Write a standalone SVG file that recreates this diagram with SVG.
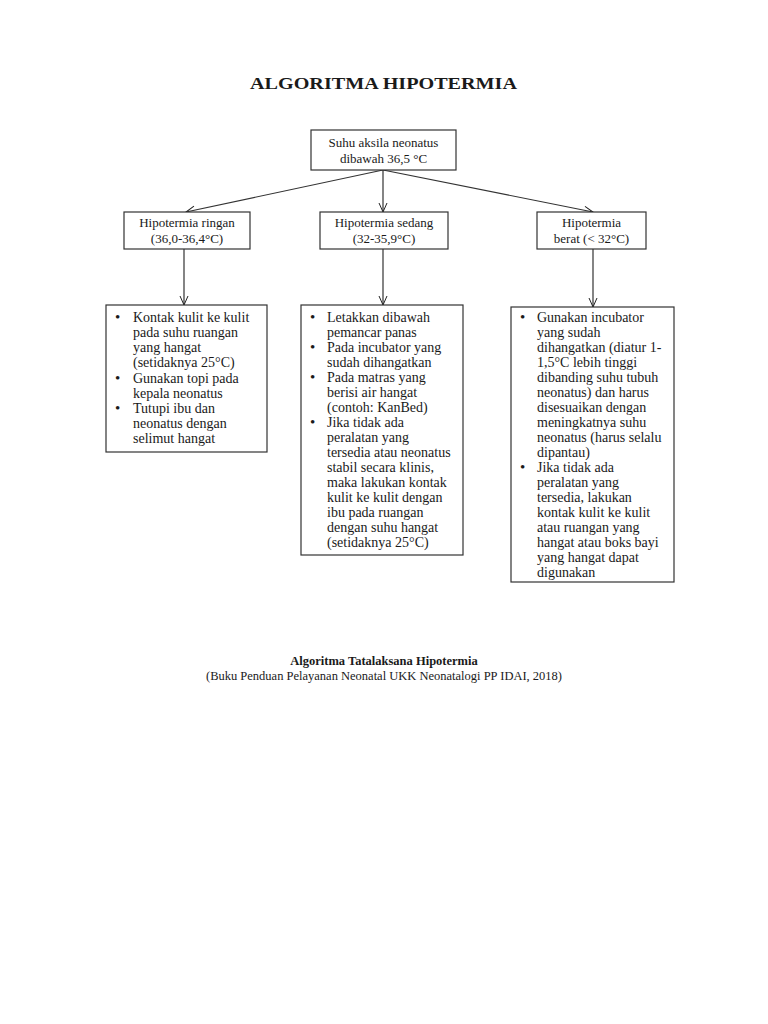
<svg xmlns="http://www.w3.org/2000/svg" width="768" height="1024" viewBox="0 0 768 1024">
<defs>
<marker id="arr" markerWidth="12" markerHeight="10" refX="10" refY="5" orient="auto" markerUnits="userSpaceOnUse">
<polyline points="1,1 10,5 1,9" fill="none" stroke="#222" stroke-width="1"/>
</marker>
<style>
text{font-family:"Liberation Serif","Times New Roman",serif;fill:#1a1a1a;font-size:13px}
.l text{font-size:14px}
.l .d{font-size:15px}
.t{font-size:16.5px;font-weight:bold}
.b{font-weight:bold}
.c{text-anchor:middle}
rect{fill:#fff;stroke:#333;stroke-width:1.2}
.e line{stroke:#333;stroke-width:1.2}
</style>
</defs>
<rect x="0" y="0" width="768" height="1024" style="stroke:none"/>
<text class="t" x="250" y="89" textLength="267" lengthAdjust="spacingAndGlyphs">ALGORITMA HIPOTERMIA</text>
<g class="e" id="connectors">
<line x1="383" y1="170" x2="186" y2="212" marker-end="url(#arr)"/>
<line x1="383" y1="170" x2="383" y2="212" marker-end="url(#arr)"/>
<line x1="383" y1="170" x2="593" y2="212" marker-end="url(#arr)"/>
<line x1="184" y1="249" x2="184" y2="305" marker-end="url(#arr)"/>
<line x1="383" y1="249" x2="383" y2="305" marker-end="url(#arr)"/>
<line x1="593" y1="249" x2="593" y2="307" marker-end="url(#arr)"/>
</g>
<g id="root">
<rect x="311" y="130" width="145" height="40"/>
<text class="c" x="383.5" y="147">Suhu aksila neonatus</text>
<text class="c" x="383.5" y="163">dibawah 36,5 °C</text>
</g>
<g id="ringan">
<rect x="124" y="212" width="126" height="37"/>
<text class="c" x="187" y="227">Hipotermia ringan</text>
<text class="c" x="187" y="243">(36,0-36,4°C)</text>
</g>
<g id="sedang">
<rect x="320" y="212" width="128" height="37"/>
<text class="c" x="384" y="227">Hipotermia sedang</text>
<text class="c" x="384" y="243">(32-35,9°C)</text>
</g>
<g id="berat">
<rect x="537" y="212" width="109" height="37"/>
<text class="c" x="591.5" y="227">Hipotermia</text>
<text class="c" x="591.5" y="243">berat (&lt; 32°C)</text>
</g>
<g id="ringan-list" class="l">
<rect x="106" y="305" width="161" height="147"/>
<text class="d" x="115" y="322">•</text>
<text x="133" y="322">Kontak kulit ke kulit</text>
<text x="133" y="337">pada suhu ruangan</text>
<text x="133" y="352">yang hangat</text>
<text x="133" y="367">(setidaknya 25°C)</text>
<text class="d" x="115" y="383">•</text>
<text x="133" y="383">Gunakan topi pada</text>
<text x="133" y="398">kepala neonatus</text>
<text class="d" x="115" y="413">•</text>
<text x="133" y="413">Tutupi ibu dan</text>
<text x="133" y="428">neonatus dengan</text>
<text x="133" y="443">selimut hangat</text>
</g>
<g id="sedang-list" class="l">
<rect x="301" y="305" width="162" height="250"/>
<text class="d" x="310" y="322">•</text>
<text x="327" y="322">Letakkan dibawah</text>
<text x="327" y="337">pemancar panas</text>
<text class="d" x="310" y="352">•</text>
<text x="327" y="352">Pada incubator yang</text>
<text x="327" y="367">sudah dihangatkan</text>
<text class="d" x="310" y="382">•</text>
<text x="327" y="382">Pada matras yang</text>
<text x="327" y="397">berisi air hangat</text>
<text x="327" y="412">(contoh: KanBed)</text>
<text class="d" x="310" y="427">•</text>
<text x="327" y="427">Jika tidak ada</text>
<text x="327" y="442">peralatan yang</text>
<text x="327" y="457">tersedia atau neonatus</text>
<text x="327" y="472">stabil secara klinis,</text>
<text x="327" y="487">maka lakukan kontak</text>
<text x="327" y="502">kulit ke kulit dengan</text>
<text x="327" y="517">ibu pada ruangan</text>
<text x="327" y="532">dengan suhu hangat</text>
<text x="327" y="547">(setidaknya 25°C)</text>
</g>
<g id="berat-list" class="l">
<rect x="511" y="307" width="163" height="275"/>
<text class="d" x="520" y="322">•</text>
<text x="537" y="322">Gunakan incubator</text>
<text x="537" y="337">yang sudah</text>
<text x="537" y="352">dihangatkan (diatur 1-</text>
<text x="537" y="367">1,5°C lebih tinggi</text>
<text x="537" y="382">dibanding suhu tubuh</text>
<text x="537" y="397">neonatus) dan harus</text>
<text x="537" y="412">disesuaikan dengan</text>
<text x="537" y="427">meningkatnya suhu</text>
<text x="537" y="442">neonatus (harus selalu</text>
<text x="537" y="457">dipantau)</text>
<text class="d" x="520" y="472">•</text>
<text x="537" y="472">Jika tidak ada</text>
<text x="537" y="487">peralatan yang</text>
<text x="537" y="502">tersedia, lakukan</text>
<text x="537" y="517">kontak kulit ke kulit</text>
<text x="537" y="532">atau ruangan yang</text>
<text x="537" y="547">hangat atau boks bayi</text>
<text x="537" y="562">yang hangat dapat</text>
<text x="537" y="577">digunakan</text>
</g>
<text class="c b" x="384" y="665" style="font-size:12.5px">Algoritma Tatalaksana Hipotermia</text>
<text class="c" x="384" y="680" style="font-size:12.5px">(Buku Penduan Pelayanan Neonatal UKK Neonatalogi PP IDAI, 2018)</text>
</svg>
